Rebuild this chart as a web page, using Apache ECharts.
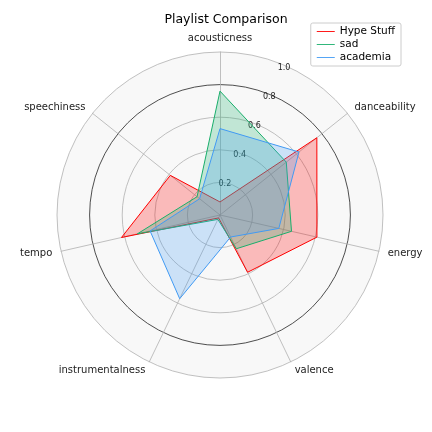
<!DOCTYPE html>
<html><head><meta charset="utf-8">
<script src="https://cdn.jsdelivr.net/npm/echarts@6/dist/echarts.min.js"></script>
<style>html,body{margin:0;padding:0;background:#fff}#c{width:432px;height:432px}</style>
</head><body><div id="c"></div>
<script>
// axes listed counterclockwise from the top (echarts radar order)
const features = ["acousticness", "speechiness", "tempo", "instrumentalness", "valence", "energy", "danceability"];
const playlists = ["Hype Stuff", "sad", "academia"];
const hype = [0.08, 0.39, 0.62, 0.02, 0.39, 0.61, 0.76];
const sad = [0.76, 0.18, 0.52, 0.03, 0.23, 0.45, 0.52];
const academia = [0.53, 0.16, 0.44, 0.57, 0.15, 0.37, 0.62];
const colors = ["#ff0000", "#1aaf6c", "#429bf4"];
const ringTicks = [0, 0.2, 0.4, 0.6, 0.8, 1.0];

const center = [220, 215];
const R = 163;

var chart = echarts.init(document.getElementById("c"));
var values = [hype, sad, academia];
option = {
  animation: false,
  title: { text: "Playlist Comparison", left: 221, top: 8, textAlign: "center",
    textStyle: { fontSize: 12.5, fontWeight: "normal", color: "#000", fontFamily: "DejaVu Sans" } },
  legend: {
    data: playlists, orient: "vertical", right: 31, top: 23, itemGap: 2,
    itemWidth: 18, itemHeight: 10, icon: "path://M0,4.5 H20 V5.5 H0 Z",
    borderColor: "#ccc", borderWidth: 1, borderRadius: 2, padding: [3, 6],
    backgroundColor: "#fff",
    textStyle: { fontSize: 10.5, color: "#000", fontFamily: "DejaVu Sans" }
  },
  radar: {
    center: center, radius: R, shape: "circle", startAngle: 90,
    splitNumber: ringTicks.length - 1,
    indicator: features.map(n => ({ name: n, min: ringTicks[0], max: ringTicks[ringTicks.length - 1] })),
    axisName: { color: "#222", fontSize: 10, fontFamily: "DejaVu Sans" },
    nameGap: 9,
    axisLine: { lineStyle: { color: "#b0b0b0", width: 0.8 } },
    splitLine: { lineStyle: { color: ["#b0b0b0", "#b0b0b0", "#b0b0b0", "#b0b0b0", "#222"], width: 0.8 } },
    splitArea: { areaStyle: { color: ["#f8f8f8"] } },
    axisTick: { show: false }, axisLabel: { show: false }
  },
  polar: { center: center, radius: [0, R] },
  angleAxis: { startAngle: 63, axisLine: { show: false }, axisTick: { show: false },
    axisLabel: { show: false }, splitLine: { show: false }, min: 0, max: 360 },
  radiusAxis: {
    min: ringTicks[0], max: ringTicks[ringTicks.length - 1], interval: 0.2,
    axisLine: { show: false }, axisTick: { show: false },
    axisLabel: { fontSize: 8, color: "#222", fontFamily: "DejaVu Sans",
      formatter: v => (v === 0 ? "" : v.toFixed(1)), margin: 4 },
    splitLine: { show: false }
  },
  series: [{
    type: "radar", symbol: "none",
    data: playlists.map((p, i) => ({
      name: p, value: values[i],
      lineStyle: { color: colors[i], width: 1 },
      itemStyle: { color: colors[i] },
      areaStyle: { color: colors[i], opacity: 0.25 }
    }))
  }]
};
chart.setOption(option);
</script></body></html>
